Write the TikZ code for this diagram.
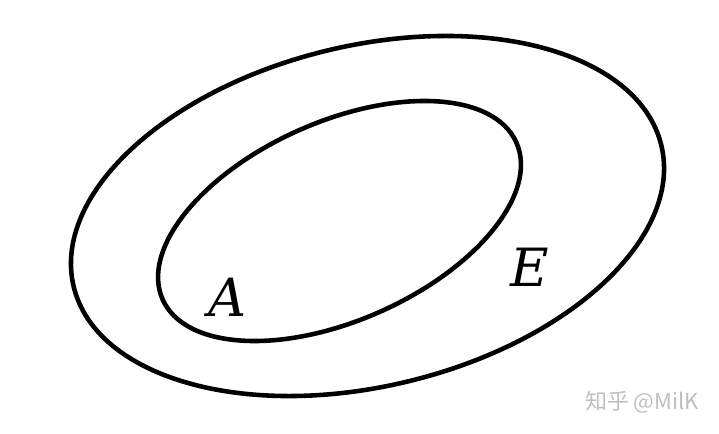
\documentclass[tikz,border=0pt]{standalone}
\usepackage{amsmath}
\usepackage{fontspec}
\newfontfamily\cjkfont{Noto Sans CJK SC}
\newfontfamily\setfont{DejaVu Serif}
\usepackage{tikz}

\tikzset{
  setline/.style={line width=2.6pt},
  setlabel/.style={inner sep=0pt, font=\setfont\itshape\fontsize{30}{36}\selectfont},
}

\begin{document}
\begin{tikzpicture}[x=0.02cm, y=0.02cm]
\useasboundingbox (0, 0) rectangle (719, 433);

% Draw sets.
\draw[setline, rotate around={13.5:(367.5, 217)}] (367.5, 217) ellipse (302.2 and 170.3);
\draw[setline, rotate around={23.9:(339.5, 212)}] (339.5, 212) ellipse (193.5 and 99.4);

% Draw labels.
\node[setlabel] (labelA) at (228, 136) {A};
\node[setlabel] (labelE) at (530, 166) {E};

% Watermark.
\node[inner sep=0pt, text=black!25, font=\cjkfont\fontsize{12.5}{14}\selectfont] (mark) at (642, 31) {知乎 @MilK};

\end{tikzpicture}
\end{document}
